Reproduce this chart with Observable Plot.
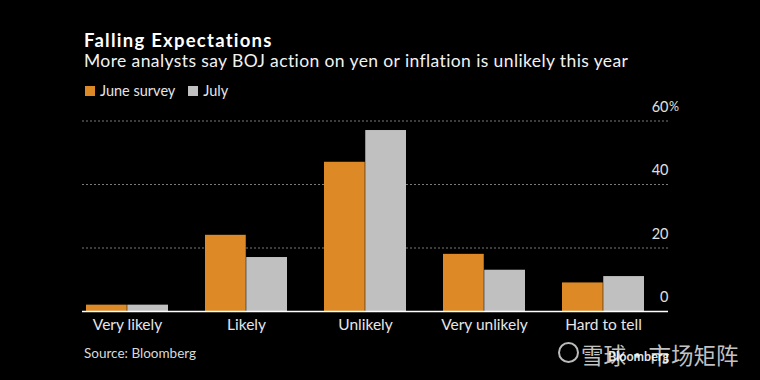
<!DOCTYPE html>
<html>
<head>
<meta charset="utf-8">
<script src="https://cdn.jsdelivr.net/npm/d3@7"></script>
<script src="https://cdn.jsdelivr.net/npm/@observablehq/plot@0.6"></script>
<style>
  html, body { margin: 0; padding: 0; background: #000; }
  #wrap { position: relative; width: 760px; height: 380px; background: #000; overflow: hidden; font-family: Lato, "Noto Sans", sans-serif; color: #fff; }
  .abs { position: absolute; white-space: nowrap; }
  #title { left: 84px; top: 29px; font-size: 18.5px; font-weight: bold; color: #fff; }
  #subtitle { left: 84px; top: 50px; font-size: 17.5px; color: #f2f2f2; }
  #legend { left: 85px; top: 82px; font-size: 14.5px; color: #e6e6e6; display: flex; align-items: center; }
  .sw { display: inline-block; width: 10px; height: 10px; margin-right: 5px; }
  #source { left: 84px; top: 345px; font-size: 13.5px; color: #d9d9d9; }
  #wm { left: 581px; top: 338px; font-family: "Noto Sans CJK SC", sans-serif; font-size: 22.5px; color: rgba(230,230,230,0.85); }
  #wmicon { left: 558px; top: 342px; width: 17px; height: 17px; border: 2.5px solid rgba(220,220,220,0.85); border-radius: 50%; }
  #wm2 { left: 608px; top: 349px; font-size: 12.5px; font-weight: bold; color: rgba(255,255,255,0.9); }
  #chart { position: absolute; left: 0; top: 100px; }
</style>
</head>
<body>
<div id="wrap">
  <div id="title" class="abs">Falling Expectations</div>
  <div id="subtitle" class="abs">More analysts say BOJ action on yen or inflation is unlikely this year</div>
  <div id="legend" class="abs"></div>
  <div id="chart"></div>
  <div id="source" class="abs">Source: Bloomberg</div>
  <div id="wmicon" class="abs"></div>
  <div id="wm" class="abs">雪球・市场矩阵</div>
  <div id="wm2" class="abs">Bloomberg</div>
</div>
<script>
const categories = ["Very likely", "Likely", "Unlikely", "Very unlikely", "Hard to tell"];
const juneSurvey = [2, 24, 47, 18, 9];
const july = [2, 17, 57, 13, 11];
const seriesNames = ["June survey", "July"];
const seriesColors = ["#dd8a26", "#c0c0c0"];
const yTicks = [0, 20, 40, 60];

const juneData = categories.map((c, i) => ({category: c, value: juneSurvey[i]}));
const julyData = categories.map((c, i) => ({category: c, value: july[i]}));

// fit header text widths to the reference
function fitWidth(id, target) {
  const el = document.getElementById(id);
  const w = el.getBoundingClientRect().width;
  const n = el.textContent.length;
  el.style.letterSpacing = ((target - w) / n) + "px";
}
fitWidth("title", 189);
fitWidth("subtitle", 545);

// legend
const legend = document.getElementById("legend");
seriesNames.forEach((name, i) => {
  const item = document.createElement("span");
  item.style.display = "inline-flex";
  item.style.alignItems = "center";
  item.style.marginRight = "13px";
  item.innerHTML = `<span class="sw" style="background:${seriesColors[i]}"></span>${name}`;
  legend.appendChild(item);
});

const half = 41.25;
const chart = Plot.plot({
  width: 760,
  height: 280,
  marginTop: 20.5,
  marginBottom: 69,
  marginLeft: 82,
  marginRight: 92,
  style: {background: "transparent", color: "#e0e0e0", fontFamily: "Lato, 'Noto Sans', sans-serif", overflow: "visible"},
  x: {domain: categories, range: [84, 645.3], paddingInner: 0.311, paddingOuter: 0},
  y: {domain: [0, 60]},
  marks: [
    Plot.ruleY(yTicks.filter(d => d > 0), {stroke: "#7a7a7a", strokeDasharray: "2,2", strokeWidth: 1}),
    Plot.barY(juneData, {x: "category", y: "value", fill: seriesColors[0], insetRight: half}),
    Plot.barY(julyData, {x: "category", y: "value", fill: seriesColors[1], insetLeft: half}),
    Plot.ruleY([0], {stroke: "#ffffff", strokeWidth: 1.5}),
    Plot.text(yTicks, {y: d => d, text: d => String(d), frameAnchor: "right", textAnchor: "end", dy: -14, fill: "#e0e0e0", fontSize: 14.5}),
    Plot.text(yTicks.filter(d => d === 60), {y: d => d, text: () => "%", frameAnchor: "right", textAnchor: "start", dy: -14, dx: 0.5, fill: "#e0e0e0", fontSize: 12.5}),
    Plot.axisX({tickSize: 0, tickPadding: 7, fontSize: 15.5, fill: "#e6e6e6", label: null}),
    Plot.axisY({ticks: [], label: null, tickSize: 0})
  ]
});
document.getElementById("chart").appendChild(chart);
</script>
</body>
</html>
